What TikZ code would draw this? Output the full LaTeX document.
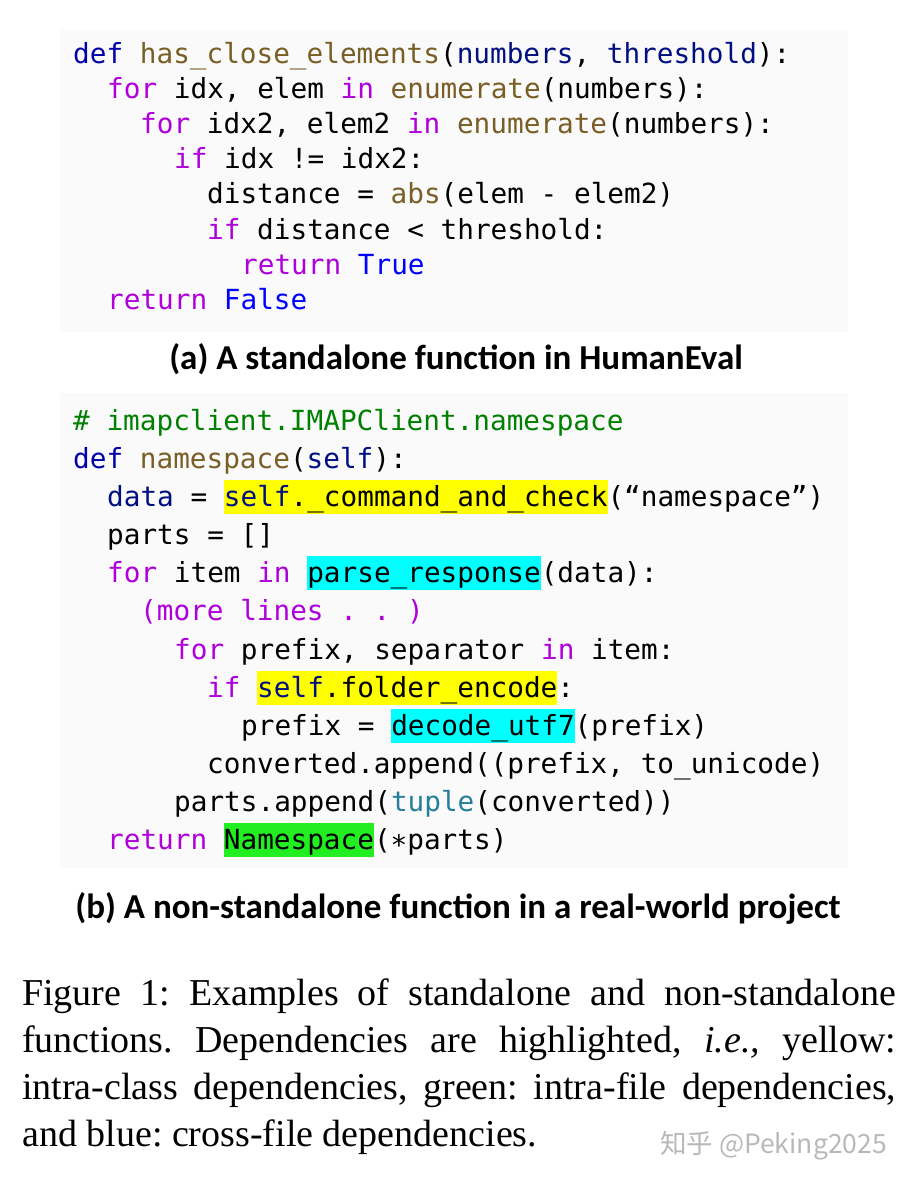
\documentclass[tikz,border=0pt]{standalone}
\usepackage{fontspec}
\setmainfont{Liberation Serif}
\newfontfamily\codefont{DejaVu Sans Mono}
\newfontfamily\capfont{Carlito}
\newfontfamily\cjkfont{Noto Sans CJK SC}
\definecolor{kw}{HTML}{AF00DB}
\definecolor{df}{HTML}{0000A8}
\definecolor{fn}{HTML}{795E26}
\definecolor{pr}{HTML}{001080}
\definecolor{bl}{HTML}{0000FF}
\definecolor{cm}{HTML}{008000}
\definecolor{tl}{HTML}{267F99}
\definecolor{bgc}{HTML}{FAFAFA}
\definecolor{hy}{HTML}{FFFF00}
\definecolor{hc}{HTML}{00FFFF}
\definecolor{hg}{HTML}{22EE22}
\newcommand{\K}[1]{\textcolor{kw}{#1}}
\newcommand{\D}[1]{\textcolor{df}{#1}}
\newcommand{\F}[1]{\textcolor{fn}{#1}}
\newcommand{\Pm}[1]{\textcolor{pr}{#1}}
\newcommand{\B}[1]{\textcolor{bl}{#1}}
\newcommand{\HL}[2]{{\setlength\fboxsep{0pt}\colorbox{#1}{\rule[-8pt]{0pt}{34pt}#2}}}
\tikzset{cl/.style={anchor=base west,inner sep=0pt,font=\codefont\fontsize{27.7}{30}\selectfont},
capb/.style={anchor=base,inner sep=0pt,font=\capfont\bfseries\fontsize{35}{38}\selectfont}}
\frenchspacing
\begin{document}
\begin{tikzpicture}[x=1pt,y=-1pt]
\useasboundingbox (0,0) rectangle (911,1185);
\fill[bgc] (60,30) rectangle (848,332);
\fill[bgc] (60,393) rectangle (848,868);
% block a
\node[cl] (a1) at (73,64) {\D{def} \F{has\_close\_elements}(\Pm{numbers}, \Pm{threshold}):};
\node[cl] (a2) at (107,99) {\K{for} idx, elem \K{in} \F{enumerate}(numbers):};
\node[cl] (a3) at (140,134) {\K{for} idx2, elem2 \K{in} \F{enumerate}(numbers):};
\node[cl] (a4) at (174,169) {\K{if} idx != idx2:};
\node[cl] (a5) at (207,204) {distance = \F{abs}(elem - elem2)};
\node[cl] (a6) at (207,239) {\K{if} distance < threshold:};
\node[cl] (a7) at (241,274) {\K{return} \B{True}};
\node[cl] (a8) at (107,309) {\K{return} \B{False}};
\node[capb] (ca) at (456,369) {(a) A standalone function in HumanEval};
% block b
\node[cl] (b1) at (73,430) {\textcolor{cm}{\# imapclient.IMAPClient.namespace}};
\node[cl] (b2) at (73,468) {\D{def} \F{namespace}(\Pm{self}):};
\node[cl] (b3) at (107,506) {\Pm{data} = \HL{hy}{\Pm{self}.\_command\_and\_check}(“namespace”)};
\node[cl] (b4) at (107,544) {parts = []};
\node[cl] (b5) at (107,582) {\K{for} item \K{in} \HL{hc}{parse\_response}(data):};
\node[cl] (b6) at (140,620) {\K{(more lines .~.~)}};
\node[cl] (b7) at (174,659) {\K{for} prefix, separator \K{in} item:};
\node[cl] (b8) at (207,697) {\K{if} \HL{hy}{\Pm{self}.folder\_encode}:};
\node[cl] (b9) at (241,735) {prefix = \HL{hc}{decode\_utf7}(prefix)};
\node[cl] (b10) at (207,773) {converted.append((prefix, to\_unicode)};
\node[cl] (b11) at (174,811) {parts.append(\textcolor{tl}{tuple}(converted))};
\node[cl] (b12) at (107,849) {\K{return} \HL{hg}{Namespace}(∗parts)};
\node[capb] (cb) at (458,918) {(b) A non-standalone function in a real-world project};
% figure caption
\node[anchor=base west,inner sep=0pt,text width=874pt,align=justify,font=\fontsize{38}{47}\selectfont] (fc) at (22,1005) {Figure 1: Examples of standalone and non-standalone\linebreak functions. Dependencies are highlighted, \textit{i.e.,} yellow:\linebreak intra-class dependencies, green: intra-file dependencies,\linebreak and blue: cross-file dependencies.};
\node[anchor=base west,inner sep=0pt,text=black!28,font=\cjkfont\fontsize{26.5}{28}\selectfont] (wm) at (660,1153) {知乎 @Peking2025};
\end{tikzpicture}
\end{document}
